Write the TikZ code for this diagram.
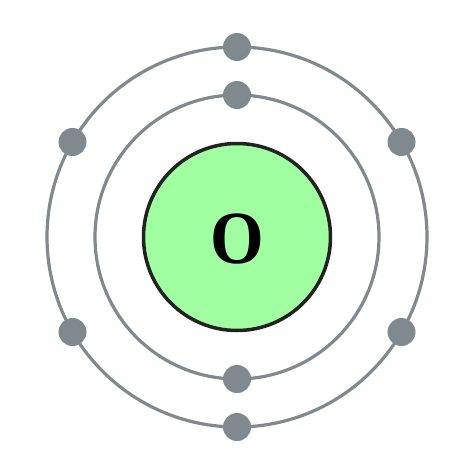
\documentclass[tikz,border=0pt]{standalone}
\usepackage{fontspec}
\setmainfont{Liberation Serif}
\definecolor{shell}{RGB}{128,138,142}
\definecolor{nuc}{RGB}{160,255,160}
\definecolor{nucline}{RGB}{34,34,34}
\begin{document}
\begin{tikzpicture}[x=1pt,y=-1pt,
  orbit/.style={draw=shell,line width=3.2pt},
  electron/.style={circle,fill=shell,minimum size=28pt,inner sep=0pt}]
\useasboundingbox (0,0) rectangle (474,474);
\fill[white] (0,0) rectangle (474,474);
\coordinate (c) at (237,237);
\draw[orbit] (c) circle[radius=190];
\draw[orbit] (c) circle[radius=142];
\node[circle,draw=nucline,fill=nuc,line width=3.5pt,minimum size=187pt,inner sep=0pt] (n) at (c) {};
\node[font=\fontsize{75}{75}\selectfont\bfseries,xscale=0.92] (o) at (237,239) {O};
\node[electron] (e1) at (237,47) {};
\node[electron] (e2) at (237,427) {};
\node[electron] (e3) at (72.5,142) {};
\node[electron] (e4) at (401.5,142) {};
\node[electron] (e5) at (72.5,332) {};
\node[electron] (e6) at (401.5,332) {};
\node[electron] (i1) at (237,95) {};
\node[electron] (i2) at (237,379) {};
\end{tikzpicture}
\end{document}
